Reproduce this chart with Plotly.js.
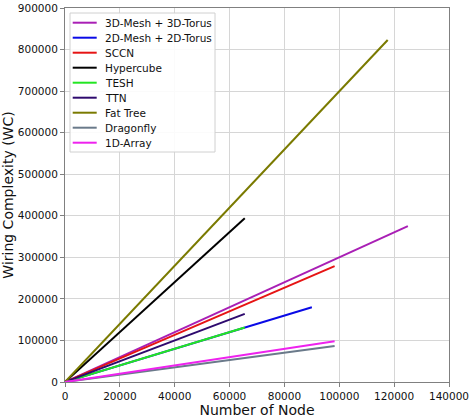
<!DOCTYPE html>
<html>
<head>
<meta charset="utf-8">
<script src="https://cdn.plot.ly/plotly-3.0.1.min.js"></script>
<style>html,body{margin:0;padding:0;background:#fff;}#chart{width:474px;height:418px;}</style>
</head>
<body>
<div id="chart"></div>
<script>
const names = ["3D-Mesh + 3D-Torus","2D-Mesh + 2D-Torus","SCCN","Hypercube","TESH","TTN","Fat Tree","Dragonfly","1D-Array"];
const colors = ["#a91fb5","#0a0ae6","#e61414","#000000","#22e622","#2e0a6e","#7a7a00","#6a7a8a","#ee22ee"];
const nodesMesh3D = [0, 125000];
const wcMesh3D = [0, 375000];
const nodesMesh2D = [0, 90000];
const wcMesh2D = [0, 180000];
const nodesSCCN = [0, 98304];
const wcSCCN = [0, 279000];
const nodesHypercube = [0, 65536];
const wcHypercube = [0, 394000];
const nodesTESH = [0, 65536];
const wcTESH = [0, 131000];
const nodesTTN = [0, 65536];
const wcTTN = [0, 164000];
const nodesFatTree = [0, 117649];
const wcFatTree = [0, 823000];
const nodesDragonfly = [0, 98304];
const wcDragonfly = [0, 86500];
const nodes1D = [0, 98304];
const wc1D = [0, 98300];

const xs = [nodesMesh3D,nodesMesh2D,nodesSCCN,nodesHypercube,nodesTESH,nodesTTN,nodesFatTree,nodesDragonfly,nodes1D];
const ys = [wcMesh3D,wcMesh2D,wcSCCN,wcHypercube,wcTESH,wcTTN,wcFatTree,wcDragonfly,wc1D];

const traces = names.map((n,i)=>({
  x: xs[i], y: ys[i], name: n, type: 'scatter', mode: 'lines',
  line: {color: colors[i], width: 2}
}));

// Plot area geometry (pixels)
const W = 474, H = 418;
const M = {l: 65, r: 25, t: 8, b: 36};
const PW = W - M.l - M.r, PH = H - M.t - M.b;
const px = v => (v - M.l) / PW;
const py = v => 1 - (v - M.t) / PH;

// Custom compact legend (matches matplotlib spacing)
const shapes = [{
  type: 'rect', xref: 'paper', yref: 'paper',
  x0: px(70), x1: px(215), y0: py(152), y1: py(13),
  line: {color: '#d0d0d0', width: 1}, fillcolor: 'rgba(255,255,255,0.9)', layer: 'above'
}];
const annotations = [];
names.forEach((n,i)=>{
  const yc = 22.7 + 15 * i;
  shapes.push({
    type: 'line', xref: 'paper', yref: 'paper',
    x0: px(72.7), x1: px(96.7), y0: py(yc), y1: py(yc),
    line: {color: colors[i], width: 2}, layer: 'above'
  });
  annotations.push({
    xref: 'paper', yref: 'paper', x: px(103), y: py(yc),
    xanchor: 'left', yanchor: 'middle', showarrow: false, text: n,
    font: {family: 'DejaVu Sans, sans-serif', size: 10.5, color: '#111'}
  });
});

const layout = {
  width: W, height: H,
  margin: M,
  paper_bgcolor: '#fff', plot_bgcolor: '#fff',
  font: {family: 'DejaVu Sans, sans-serif', color: '#111'},
  showlegend: false,
  shapes: shapes,
  annotations: annotations,
  xaxis: {
    range: [0, 140000], dtick: 20000, tickformat: 'd',
    showgrid: true, gridcolor: '#d6d6d6', gridwidth: 1,
    showline: true, linecolor: '#808080', linewidth: 1, mirror: true,
    ticks: 'outside', ticklen: 4, tickcolor: '#808080',
    zeroline: false,
    tickfont: {family: 'DejaVu Sans, sans-serif', size: 10.5, color: '#111'},
    title: {text: 'Number of Node', font: {family: 'DejaVu Sans, sans-serif', size: 14, color: '#111'}, standoff: 2}
  },
  yaxis: {
    range: [0, 900000], dtick: 100000, tickformat: 'd',
    showgrid: true, gridcolor: '#d6d6d6', gridwidth: 1,
    showline: true, linecolor: '#808080', linewidth: 1, mirror: true,
    ticks: 'outside', ticklen: 4, tickcolor: '#808080',
    zeroline: false,
    tickfont: {family: 'DejaVu Sans, sans-serif', size: 10.5, color: '#111'},
    title: {text: 'Wiring Complexity (WC)', font: {family: 'DejaVu Sans, sans-serif', size: 14, color: '#111'}, standoff: 5}
  }
};
Plotly.newPlot('chart', traces, layout, {displayModeBar: false, staticPlot: true});
</script>
</body>
</html>
